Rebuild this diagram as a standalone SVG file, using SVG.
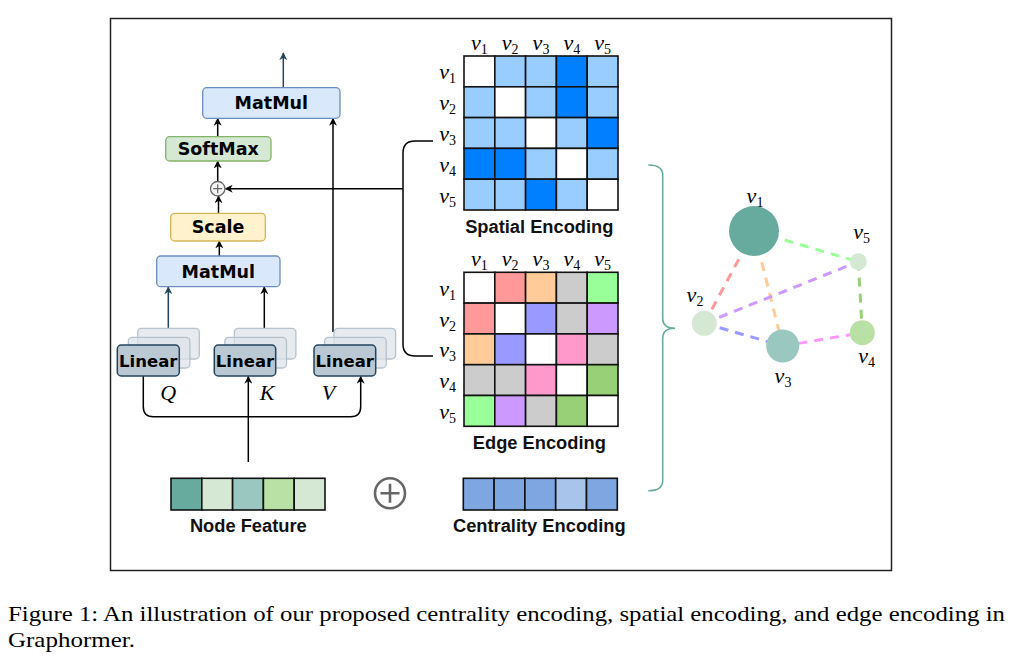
<svg xmlns="http://www.w3.org/2000/svg" width="1018" height="660" viewBox="0 0 1018 660">
<defs>
<style>
.box{stroke-width:1.3}
.bt{font-family:"DejaVu Sans",Verdana,sans-serif;font-weight:bold;font-size:17.5px;text-anchor:middle;fill:#000}
.lt{font-family:"DejaVu Sans",Verdana,sans-serif;font-weight:bold;font-size:16.5px;text-anchor:middle;fill:#000}
.cap{font-family:"Liberation Sans",Arial,sans-serif;font-weight:bold;font-size:18.3px;text-anchor:middle;fill:#111}
.math{font-family:"Liberation Serif","Times New Roman",serif;font-style:italic;font-size:22px;fill:#000}
.sub{font-style:normal;font-size:14px}
.ln{fill:none;stroke:#000;stroke-width:1.5}
.lnb{fill:none;stroke:#23445d;stroke-width:1.5}
.cell{stroke:#111;stroke-width:1.6}
.back{fill:#dde3ea;fill-opacity:0.7;stroke:#b5c1cd;stroke-width:1.3}
.front{fill:#bac8d3;stroke:#23445d;stroke-width:1.5}
.edge{fill:none;stroke-width:3;stroke-dasharray:9 7}
.capt{font-family:"Liberation Serif","Times New Roman",serif;font-size:22px;fill:#000}
</style>
<marker id="ah" viewBox="0 0 10 10" refX="9" refY="5" markerWidth="8" markerHeight="8" markerUnits="userSpaceOnUse" orient="auto"><path d="M0,0 L10,5 L0,10 L3,5 Z" fill="#000"/></marker>
<marker id="ahb" viewBox="0 0 10 10" refX="9" refY="5" markerWidth="8" markerHeight="8" markerUnits="userSpaceOnUse" orient="auto"><path d="M0,0 L10,5 L0,10 L3,5 Z" fill="#23445d"/></marker>
</defs>
<rect x="0" y="0" width="1018" height="660" fill="#fff"/>
<rect id="frame" x="110.5" y="18.5" width="781" height="552" fill="none" stroke="#222" stroke-width="1.5"/>

<g id="connectors">
<path class="lnb" d="M283.3,87.7 V53" marker-end="url(#ahb)"/>
<path class="ln" d="M217.7,136.7 V118.5" marker-end="url(#ah)"/>
<path class="ln" d="M217.7,181.5 V161.2" marker-end="url(#ah)"/>
<path class="ln" d="M218.5,213.3 V196" marker-end="url(#ah)"/>
<path class="ln" d="M219.3,256 V241.2" marker-end="url(#ah)"/>
<path class="ln" d="M403,188.7 H225.5" marker-end="url(#ah)"/>
<path class="ln" d="M433,141 H415 Q403,141 403,153 V344 Q403,356 415,356 H433"/>
<path class="ln" d="M333,332 V118.5" marker-end="url(#ah)"/>
<path class="lnb" d="M168.3,328 V287" marker-end="url(#ahb)"/>
<path class="ln" d="M264.3,328 V287" marker-end="url(#ah)"/>
<path class="ln" d="M248.3,462 V376.5" marker-end="url(#ah)"/>
<path class="ln" d="M143.3,376.5 V406.7 Q143.3,416.7 153.3,416.7 H350.7 Q360.7,416.7 360.7,406.7 V376.5" marker-start="url(#ah)" marker-end="url(#ah)"/>
</g>

<g id="matmul-top"><rect class="box" x="202.7" y="87.7" width="137.3" height="30.6" rx="4" fill="#dae8fc" stroke="#6c8ebf"/><text class="bt" x="271.3" y="109.2">MatMul</text></g>
<g id="softmax"><rect class="box" x="165.7" y="136.7" width="105.3" height="24.3" rx="4" fill="#d5e8d4" stroke="#82b366"/><text class="bt" x="218.3" y="155">SoftMax</text></g>
<g id="add-small"><circle cx="217.7" cy="188.7" r="7.2" fill="#f5f5f5" stroke="#666" stroke-width="1.3"/><path d="M213.2,188.7 H222.2 M217.7,184.2 V193.2" stroke="#666" stroke-width="1.2"/></g>
<g id="scale"><rect class="box" x="170.7" y="213.3" width="94.6" height="27.7" rx="4" fill="#fff2cc" stroke="#d6b656"/><text class="bt" x="218" y="233.2">Scale</text></g>
<g id="matmul-bottom"><rect class="box" x="156.7" y="256" width="123.3" height="30.7" rx="4" fill="#dae8fc" stroke="#6c8ebf"/><text class="bt" x="218.3" y="277.5">MatMul</text></g>

<g id="linear-q">
<rect class="back" x="137.7" y="328.3" width="61.6" height="30.7" rx="4"/>
<rect class="back" x="128.3" y="337.3" width="61.6" height="30.7" rx="4"/>
<rect class="front" x="117.3" y="345" width="62" height="31" rx="4"/>
<text class="lt" x="148.3" y="366.8">Linear</text>
</g>
<g id="linear-k">
<rect class="back" x="234.3" y="328.3" width="61.6" height="30.7" rx="4"/>
<rect class="back" x="224.9" y="337.3" width="61.6" height="30.7" rx="4"/>
<rect class="front" x="214.3" y="345" width="61.4" height="31" rx="4"/>
<text class="lt" x="245" y="366.8">Linear</text>
</g>
<g id="linear-v">
<rect class="back" x="334" y="328.3" width="61.6" height="30.7" rx="4"/>
<rect class="back" x="324.6" y="337.3" width="61.6" height="30.7" rx="4"/>
<rect class="front" x="314" y="345" width="61.7" height="31" rx="4"/>
<text class="lt" x="344.8" y="366.8">Linear</text>
</g>
<g id="qkv-labels">
<text class="math" x="168.3" y="400" text-anchor="middle">Q</text>
<text class="math" x="267" y="400" text-anchor="middle">K</text>
<text class="math" x="328.5" y="400" text-anchor="middle">V</text>
</g>

<g id="spatial-encoding">
<g class="cell">
<rect x="464" y="56" width="30.8" height="30.8" fill="#ffffff"/><rect x="494.8" y="56" width="30.8" height="30.8" fill="#99ccff"/><rect x="525.6" y="56" width="30.8" height="30.8" fill="#99ccff"/><rect x="556.4" y="56" width="30.8" height="30.8" fill="#007fff"/><rect x="587.2" y="56" width="30.8" height="30.8" fill="#99ccff"/>
<rect x="464" y="86.8" width="30.8" height="30.8" fill="#99ccff"/><rect x="494.8" y="86.8" width="30.8" height="30.8" fill="#ffffff"/><rect x="525.6" y="86.8" width="30.8" height="30.8" fill="#99ccff"/><rect x="556.4" y="86.8" width="30.8" height="30.8" fill="#007fff"/><rect x="587.2" y="86.8" width="30.8" height="30.8" fill="#99ccff"/>
<rect x="464" y="117.6" width="30.8" height="30.8" fill="#99ccff"/><rect x="494.8" y="117.6" width="30.8" height="30.8" fill="#99ccff"/><rect x="525.6" y="117.6" width="30.8" height="30.8" fill="#ffffff"/><rect x="556.4" y="117.6" width="30.8" height="30.8" fill="#99ccff"/><rect x="587.2" y="117.6" width="30.8" height="30.8" fill="#007fff"/>
<rect x="464" y="148.4" width="30.8" height="30.8" fill="#007fff"/><rect x="494.8" y="148.4" width="30.8" height="30.8" fill="#007fff"/><rect x="525.6" y="148.4" width="30.8" height="30.8" fill="#99ccff"/><rect x="556.4" y="148.4" width="30.8" height="30.8" fill="#ffffff"/><rect x="587.2" y="148.4" width="30.8" height="30.8" fill="#99ccff"/>
<rect x="464" y="179.2" width="30.8" height="30.8" fill="#99ccff"/><rect x="494.8" y="179.2" width="30.8" height="30.8" fill="#99ccff"/><rect x="525.6" y="179.2" width="30.8" height="30.8" fill="#007fff"/><rect x="556.4" y="179.2" width="30.8" height="30.8" fill="#99ccff"/><rect x="587.2" y="179.2" width="30.8" height="30.8" fill="#ffffff"/>
</g>
<g class="math" text-anchor="middle">
<text x="479.4" y="50">v<tspan class="sub" dy="4">1</tspan></text>
<text x="510.2" y="50">v<tspan class="sub" dy="4">2</tspan></text>
<text x="541" y="50">v<tspan class="sub" dy="4">3</tspan></text>
<text x="571.8" y="50">v<tspan class="sub" dy="4">4</tspan></text>
<text x="602.6" y="50">v<tspan class="sub" dy="4">5</tspan></text>
</g>
<g class="math" text-anchor="end">
<text x="456" y="79.4">v<tspan class="sub" dy="4">1</tspan></text>
<text x="456" y="110.2">v<tspan class="sub" dy="4">2</tspan></text>
<text x="456" y="141">v<tspan class="sub" dy="4">3</tspan></text>
<text x="456" y="171.8">v<tspan class="sub" dy="4">4</tspan></text>
<text x="456" y="202.6">v<tspan class="sub" dy="4">5</tspan></text>
</g>
<text class="cap" x="539.3" y="232.5">Spatial Encoding</text>
</g>

<g id="edge-encoding">
<g class="cell">
<rect x="464" y="272.3" width="30.8" height="30.8" fill="#ffffff"/><rect x="494.8" y="272.3" width="30.8" height="30.8" fill="#ff9999"/><rect x="525.6" y="272.3" width="30.8" height="30.8" fill="#ffcc99"/><rect x="556.4" y="272.3" width="30.8" height="30.8" fill="#cccccc"/><rect x="587.2" y="272.3" width="30.8" height="30.8" fill="#99ff99"/>
<rect x="464" y="303.1" width="30.8" height="30.8" fill="#ff9999"/><rect x="494.8" y="303.1" width="30.8" height="30.8" fill="#ffffff"/><rect x="525.6" y="303.1" width="30.8" height="30.8" fill="#9999ff"/><rect x="556.4" y="303.1" width="30.8" height="30.8" fill="#cccccc"/><rect x="587.2" y="303.1" width="30.8" height="30.8" fill="#cc99ff"/>
<rect x="464" y="333.9" width="30.8" height="30.8" fill="#ffcc99"/><rect x="494.8" y="333.9" width="30.8" height="30.8" fill="#9999ff"/><rect x="525.6" y="333.9" width="30.8" height="30.8" fill="#ffffff"/><rect x="556.4" y="333.9" width="30.8" height="30.8" fill="#ff99cc"/><rect x="587.2" y="333.9" width="30.8" height="30.8" fill="#cccccc"/>
<rect x="464" y="364.7" width="30.8" height="30.8" fill="#cccccc"/><rect x="494.8" y="364.7" width="30.8" height="30.8" fill="#cccccc"/><rect x="525.6" y="364.7" width="30.8" height="30.8" fill="#ff99cc"/><rect x="556.4" y="364.7" width="30.8" height="30.8" fill="#ffffff"/><rect x="587.2" y="364.7" width="30.8" height="30.8" fill="#97d077"/>
<rect x="464" y="395.5" width="30.8" height="30.8" fill="#99ff99"/><rect x="494.8" y="395.5" width="30.8" height="30.8" fill="#cc99ff"/><rect x="525.6" y="395.5" width="30.8" height="30.8" fill="#cccccc"/><rect x="556.4" y="395.5" width="30.8" height="30.8" fill="#97d077"/><rect x="587.2" y="395.5" width="30.8" height="30.8" fill="#ffffff"/>
</g>
<g class="math" text-anchor="middle">
<text x="479.4" y="266">v<tspan class="sub" dy="4">1</tspan></text>
<text x="510.2" y="266">v<tspan class="sub" dy="4">2</tspan></text>
<text x="541" y="266">v<tspan class="sub" dy="4">3</tspan></text>
<text x="571.8" y="266">v<tspan class="sub" dy="4">4</tspan></text>
<text x="602.6" y="266">v<tspan class="sub" dy="4">5</tspan></text>
</g>
<g class="math" text-anchor="end">
<text x="456" y="295.7">v<tspan class="sub" dy="4">1</tspan></text>
<text x="456" y="326.5">v<tspan class="sub" dy="4">2</tspan></text>
<text x="456" y="357.3">v<tspan class="sub" dy="4">3</tspan></text>
<text x="456" y="388.1">v<tspan class="sub" dy="4">4</tspan></text>
<text x="456" y="418.9">v<tspan class="sub" dy="4">5</tspan></text>
</g>
<text class="cap" x="539.3" y="448.5">Edge Encoding</text>
</g>

<g id="node-feature">
<g class="cell">
<rect x="171" y="478.3" width="30.8" height="31.7" fill="#67ab9f"/><rect x="201.8" y="478.3" width="30.8" height="31.7" fill="#d5e8d4"/><rect x="232.6" y="478.3" width="30.8" height="31.7" fill="#9ac7bf"/><rect x="263.4" y="478.3" width="30.8" height="31.7" fill="#b9e0a5"/><rect x="294.2" y="478.3" width="30.8" height="31.7" fill="#d5e8d4"/>
</g>
<text class="cap" x="248.3" y="532">Node Feature</text>
</g>
<g id="add-big"><circle cx="390" cy="493.3" r="15" fill="none" stroke="#666" stroke-width="2.6"/><path d="M380.5,493.3 H399.5 M390,483.8 V502.8" stroke="#666" stroke-width="2.6"/></g>
<g id="centrality-encoding">
<g class="cell">
<rect x="463.3" y="478.3" width="30.8" height="31.7" fill="#7ea6e0"/><rect x="494.1" y="478.3" width="30.8" height="31.7" fill="#7ea6e0"/><rect x="524.9" y="478.3" width="30.8" height="31.7" fill="#7ea6e0"/><rect x="555.7" y="478.3" width="30.8" height="31.7" fill="#a9c4eb"/><rect x="586.5" y="478.3" width="30.8" height="31.7" fill="#7ea6e0"/>
</g>
<text class="cap" x="539.3" y="532">Centrality Encoding</text>
</g>

<g id="brace"><path d="M648.3,165 Q662.7,165 662.7,175 V318.3 Q662.7,328.3 675,328.3 Q662.7,328.3 662.7,338.3 V480.7 Q662.7,490.7 648.3,490.7" fill="none" stroke="#67ab9f" stroke-width="1.6"/></g>

<g id="graph-edges">
<line class="edge" x1="754" y1="231" x2="704.3" y2="323.3" stroke="#ff9999"/>
<line class="edge" x1="754" y1="231" x2="782.7" y2="346" stroke="#ffcc99"/>
<line class="edge" x1="754" y1="231" x2="858.3" y2="261.7" stroke="#99ff99"/>
<line class="edge" x1="704.3" y1="323.3" x2="858.3" y2="261.7" stroke="#cc99ff"/>
<line class="edge" x1="704.3" y1="323.3" x2="782.7" y2="346" stroke="#9999ff"/>
<line class="edge" x1="782.7" y1="346" x2="862.3" y2="332.7" stroke="#ff99ff"/>
<line class="edge" x1="858.3" y1="261.7" x2="862.3" y2="332.7" stroke="#97d077"/>
</g>
<g id="node-v1"><circle cx="754" cy="231" r="25" fill="#67ab9f"/><text class="math" x="755" y="203" text-anchor="middle">v<tspan class="sub" dy="4">1</tspan></text></g>
<g id="node-v2"><circle cx="704.3" cy="323.3" r="12.5" fill="#d5e8d4"/><text class="math" x="695" y="301.5" text-anchor="middle">v<tspan class="sub" dy="4">2</tspan></text></g>
<g id="node-v3"><circle cx="782.7" cy="346" r="16.5" fill="#9ac7bf"/><text class="math" x="783" y="383" text-anchor="middle">v<tspan class="sub" dy="4">3</tspan></text></g>
<g id="node-v4"><circle cx="862.3" cy="332.7" r="12.5" fill="#b9e0a5"/><text class="math" x="866.7" y="363" text-anchor="middle">v<tspan class="sub" dy="4">4</tspan></text></g>
<g id="node-v5"><circle cx="858.3" cy="261.7" r="8.5" fill="#d5e8d4"/><text class="math" x="861.7" y="238.5" text-anchor="middle">v<tspan class="sub" dy="4">5</tspan></text></g>

<g id="caption">
<text class="capt" x="8" y="620.7" textLength="997" lengthAdjust="spacingAndGlyphs">Figure 1: An illustration of our proposed centrality encoding, spatial encoding, and edge encoding in</text>
<text class="capt" x="8" y="647" textLength="127" lengthAdjust="spacingAndGlyphs">Graphormer.</text>
</g>
</svg>
